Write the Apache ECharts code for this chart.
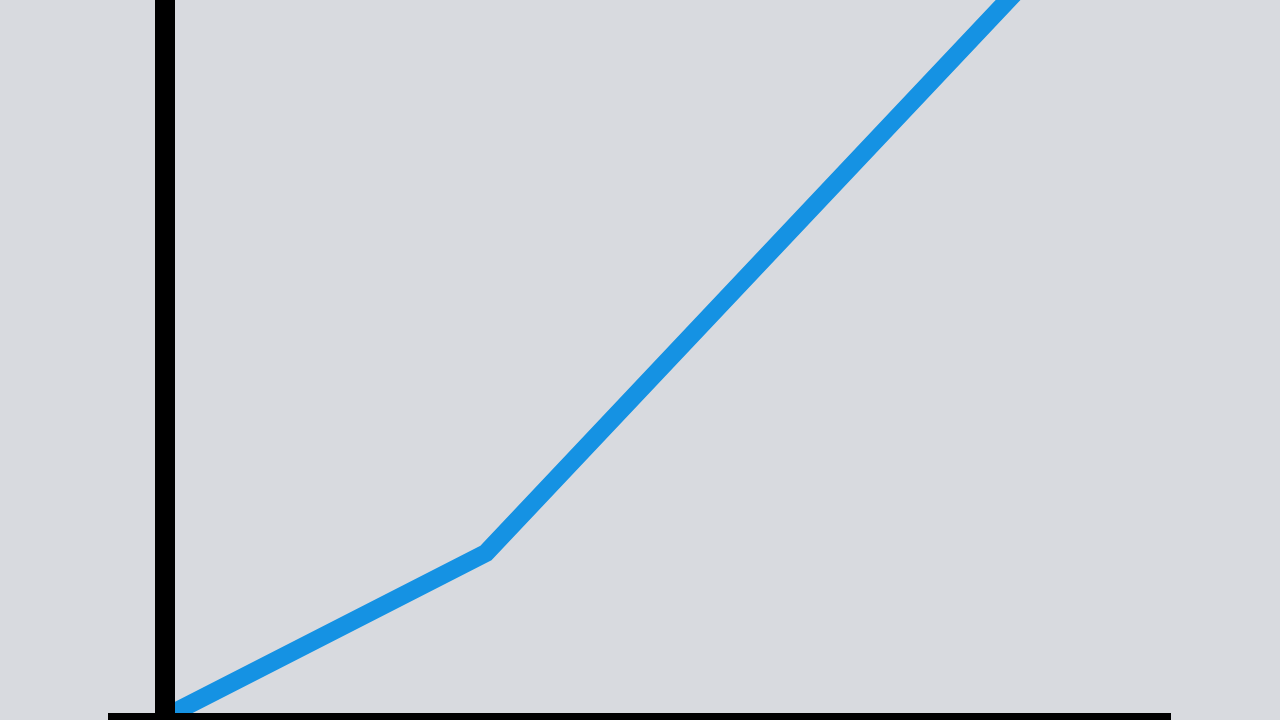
<!DOCTYPE html>
<html>
<head>
<meta charset="utf-8">
<script src="https://cdn.jsdelivr.net/npm/echarts@6/dist/echarts.min.js"></script>
<style>
  html, body { margin: 0; padding: 0; background: #d8dadf; }
  #chart { width: 1280px; height: 720px; }
</style>
</head>
<body>
<div id="chart"></div>
<script>
// values (no labels on the axes)
const xValues = [0, 3.21, 8.95]
const yValues = [0, 1.64, 7.72]

const points = xValues.map((x, i) => [x, yValues[i]])

const myChart = echarts.init(document.getElementById('chart'))
const option = {
  backgroundColor: '#d8dadf',
  animation: false,
  grid: {
    left: 108,
    right: 109,
    top: 0,
    bottom: 3
  },
  xAxis: {
    type: 'value',
    min: -0.57,
    max: 10.06,
    z: 10,
    axisLine: {
      onZero: false,
      lineStyle: { color: '#000', width: 8, cap: 'butt' }
    },
    axisTick: { show: false },
    axisLabel: { show: false },
    splitLine: { show: false }
  },
  yAxis: {
    type: 'value',
    min: 0,
    max: 7.17,
    z: 10,
    axisLine: {
      onZero: true,
      lineStyle: { color: '#000', width: 20, cap: 'butt' }
    },
    axisTick: { show: false },
    axisLabel: { show: false },
    splitLine: { show: false }
  },
  series: [
    {
      type: 'line',
      z: 1,
      data: points,
      showSymbol: false,
      symbol: 'none',
      clip: true,
      lineStyle: { color: '#1592e3', width: 18, join: 'miter' }
    }
  ]
}
myChart.setOption(option)
</script>
</body>
</html>
